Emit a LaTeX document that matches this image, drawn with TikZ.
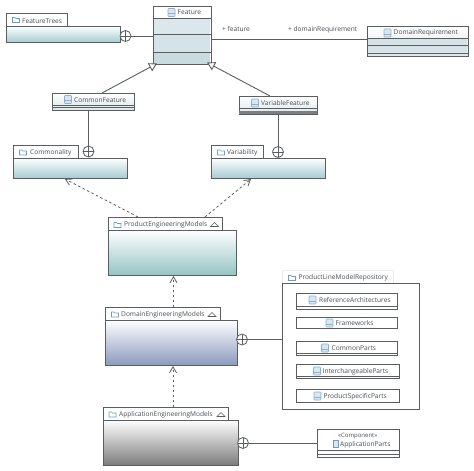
\documentclass[tikz,border=0pt]{standalone}
\usepackage{fontspec}
\setmainfont{Open Sans}
\usetikzlibrary{arrows.meta}
\definecolor{ln}{HTML}{5A5E60}
\definecolor{txt}{HTML}{4A4F55}
\definecolor{ico}{HTML}{6C9CC4}
\definecolor{tealc}{HTML}{A5CBD0}
\definecolor{prodc}{HTML}{96C4C4}
\definecolor{domc}{HTML}{8C9ABF}
\definecolor{appc}{HTML}{7C7C7C}
\definecolor{cell}{HTML}{DCE7EB}
\definecolor{cellm}{HTML}{D5E2E7}
\definecolor{cellb}{HTML}{C9DBE1}
\tikzset{
 x=1pt,y=-1pt,
 rect/.style={draw=ln,line width=.9pt,inner sep=0pt,outer sep=0pt,anchor=north west},
 tealbody/.style={rect,top color=white,bottom color=#1},
 tealbody/.default=tealc,
 tabbox/.style={rect,fill=white},
 lbl/.style={font=\fontsize{6.6}{8}\selectfont,text=txt,inner sep=0pt,anchor=west},
 plus/.style={circle,draw=ln,fill=white,line width=.8pt,minimum size=11pt,inner sep=0pt,outer sep=0pt,
   path picture={\draw[ln,line width=.8pt] (path picture bounding box.north)--(path picture bounding box.south)
     (path picture bounding box.west)--(path picture bounding box.east);}},
 conn/.style={draw=ln,line width=.9pt},
 gen/.style={conn,-{Triangle[open,fill=white,length=8pt,width=9pt]}},
 dep/.style={draw=ln,line width=.8pt,dash pattern=on 2.5pt off 2.5pt,-{Straight Barb[length=6pt,width=7pt]}},
}
% \bx{name}{x1}{y1}{x2}{y2}{style}
\newcommand\bx[6]{\pgfmathsetmacro\boxw{#4-#2}\pgfmathsetmacro\boxh{#5-#3}%
 \node[#6,minimum width=\boxw pt,minimum height=\boxh pt] (#1) at (#2,#3) {};}
\newcommand\foldericon[2]{\begin{scope}[shift={(#1,#2)}]
 \draw[ico,fill=white,line width=.7pt] (-3.5,-2.5)--(-1,-2.5)--(0,-1.5)--(3.5,-1.5)--(3.5,2.5)--(-3.5,2.5)--cycle;
 \end{scope}}
\newcommand\classicon[2]{\begin{scope}[shift={(#1,#2)}]
 \draw[ico!80,fill=ico!25,line width=.6pt,rounded corners=.8pt] (-3.5,-4)rectangle(3.5,4);
 \draw[ico!80,line width=.5pt] (-3.5,1)--(3.5,1);
 \end{scope}}
\begin{document}
\begin{tikzpicture}
\useasboundingbox (0,0) rectangle (474,471);
\fill[white] (0,0) rectangle (474,471);
\bx{feature}{153}{6}{211}{64}{rect,fill=white}
\bx{ftrees}{6}{26}{120}{42.5}{tealbody}
\bx{ftreestab}{6}{13}{67}{26}{tabbox}
\bx{cfeat}{52}{93}{134}{110}{rect,top color=white,bottom color=cell}
\bx{vfeat}{239}{96}{317}{114}{rect,top color=white,bottom color=cell}
\bx{drq}{367}{26}{468}{56}{rect,top color=white,bottom color=cell}
\bx{cty}{13}{158}{127}{178.5}{tealbody}
\bx{ctytab}{13}{145}{78}{158}{tabbox}
\bx{vty}{211}{158}{325}{178.5}{tealbody}
\bx{vtytab}{211}{145}{263}{158}{tabbox}
\bx{pem}{108}{230}{236}{275}{tealbody=prodc}
\bx{pemtab}{108}{217}{222}{230}{tabbox}
\bx{dem}{105}{320}{237}{365}{tealbody=domc}
\bx{demtab}{105}{307}{220}{320}{tabbox}
\bx{aem}{103}{420}{238}{465}{tealbody=appc}
\bx{aemtab}{103}{407}{228}{420}{tabbox}
\bx{repotab}{282}{270}{393}{283}{rect,draw=black!8,line width=.5pt,fill=white}
\bx{repo}{282}{283}{419}{409}{rect,fill=white}
\bx{rarch}{296}{293}{397}{309}{rect,fill=white}
\bx{frame}{296}{317}{397}{328}{rect,fill=white}
\bx{cparts}{296}{341}{397}{355.5}{rect,fill=white}
\bx{iparts}{296}{364}{399}{378.5}{rect,fill=white}
\bx{pparts}{296}{389}{399.5}{402}{rect,fill=white}
\bx{apparts}{317}{429}{399}{457}{rect,fill=white}
% Feature compartments
\fill[cell] (154,18) rectangle (210,34);
\fill[cellm] (154,35) rectangle (210,52);
\fill[cellb] (154,52) rectangle (210,63.5);
\draw[conn] (153,18)--(211,18) (153,34.5)--(211,34.5) (153,52)--(211,52);
\draw[conn] (feature.north west) rectangle (feature.south east);
% other compartments
\draw[conn] (52,105)--(134,105) (52,107.5)--(134,107.5);
\draw[conn] (239,108)--(317,108) (239,111)--(317,111);
\fill[ln!80] (239,111) rectangle (317,114);
\fill[cellm] (368,38) rectangle (467,52);
\draw[conn] (367,38)--(468,38) (367,45)--(468,45) (367,53)--(468,53);
\draw[conn] (296,306)--(397,306) (296,353)--(397,353) (296,376)--(399,376);
\draw[conn] (317,450)--(399,450) (317,454)--(399,454);
% plus circles and connectors
\node[plus] (p1) at (125.5,36) {};
\coordinate (f1) at (153,36);
\draw[conn] (p1) -- (f1);
\coordinate (c1) at (88.5,110);
\node[plus] (p2) at (88.5,151.5) {};
\draw[conn] (c1) -- (p2);
\coordinate (c2) at (278,114);
\node[plus] (p3) at (278,152) {};
\draw[conn] (c2) -- (p3);
\node[plus] (p4) at (242,339.5) {};
\coordinate (r1) at (282,339.5);
\draw[conn] (p4) -- (r1);
\node[plus] (p5) at (243,443) {};
\coordinate (a1) at (317,443);
\draw[conn] (p5) -- (a1);
\coordinate (f2) at (211,39);
\coordinate (d1) at (367,39);
\draw[conn] (f2) -- (d1);
\coordinate (g1s) at (102,93);
\coordinate (g1e) at (157,63.5);
\draw[gen] (g1s) -- (g1e);
\coordinate (g2s) at (270,96);
\coordinate (g2e) at (207,62.5);
\draw[gen] (g2s) -- (g2e);
\coordinate (t1) at (138,217); \coordinate (t1e) at (65,179);
\draw[dep] (t1) -- (t1e);
\coordinate (t2) at (205,217); \coordinate (t2e) at (251,179);
\draw[dep] (t2) -- (t2e);
\coordinate (t3) at (173.5,307); \coordinate (t3e) at (173.5,276);
\draw[dep] (t3) -- (t3e);
\coordinate (t4) at (173,407); \coordinate (t4e) at (173,366);
\draw[dep] (t4) -- (t4e);
% texts
\classicon{171.5}{12.5}
\node[lbl] (tf) at (177.5,12.5) {Feature};
\foldericon{16}{20}
\node[lbl] (tft) at (22,21) {FeatureTrees};
\classicon{68}{99.5}
\node[lbl] (tcf) at (74,100) {CommonFeature};
\classicon{255}{103}
\node[lbl] (tvf) at (261,103) {VariableFeature};
\classicon{387.5}{33}
\node[lbl] (tdr) at (393.5,33) {DomainRequirement};
\foldericon{23}{152.5}
\node[lbl] (tc) at (30,153) {Commonality};
\foldericon{221}{152.5}
\node[lbl] (tv) at (227,153) {Variability};
\foldericon{117.5}{225}
\node[lbl] (tp) at (124,225) {ProductEngineeringModels};
\foldericon{115}{314.5}
\node[lbl] (td) at (121,315) {DomainEngineeringModels};
\foldericon{112.5}{414.5}
\node[lbl] (ta) at (119,415) {ApplicationEngineeringModels};
\foreach \x/\y in {214.5/224.5,212/314.5,221/414.5}{
 \draw[ln,line width=.6pt] (\x-4,\y+2)--(\x,\y-2)--(\x+4,\y+2)--cycle;}
\node[lbl] (tlab1) at (222,29) {+ feature};
\node[lbl] (tlab2) at (288,30) {+ domainRequirement};
\foldericon{292}{278}
\node[lbl] (trp) at (298.5,278) {ProductLineModelRepository};
\classicon{312.5}{300}
\node[lbl] (tra) at (319,300) {ReferenceArchitectures};
\classicon{329.5}{323}
\node[lbl] (tfr) at (335.5,323) {Frameworks};
\classicon{325}{348}
\node[lbl] (tcp) at (331.5,348.5) {CommonParts};
\classicon{317}{371}
\node[lbl] (tip) at (322.5,371.5) {InterchangeableParts};
\classicon{317.5}{396}
\node[lbl] (tpp) at (323.5,396.5) {ProductSpecificParts};
\node[lbl,font=\fontsize{6}{8}\selectfont] (tcm) at (338,436) {«Component»};
\draw[ico,fill=ico!25,line width=.6pt] (333,440.5) rectangle (338.5,447);
\node[lbl] (tap) at (340,445) {ApplicationParts};
\end{tikzpicture}
\end{document}
